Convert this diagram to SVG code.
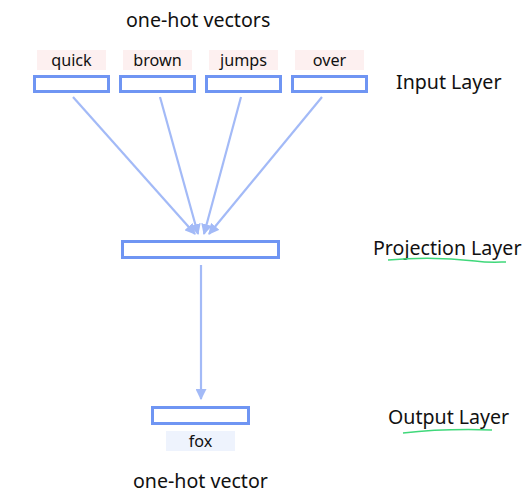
<svg xmlns="http://www.w3.org/2000/svg" width="526" height="499" viewBox="0 0 526 499">
<style>
text{font-family:"Noto Sans","Noto Sans CJK KR",sans-serif;fill:#111}
.t{font-size:19.6px}
.w{font-size:16.2px;text-anchor:middle}
.box{fill:#fff;stroke:#6f95f3;stroke-width:3}
.lbl{fill:#fdf0f0}
.c{stroke:#a3baf7;stroke-width:2.2;fill:none;marker-end:url(#ah)}
.u{stroke:#3fd87a;stroke-width:1.5;fill:none}
</style>
<defs>
<marker id="ah" viewBox="0 0 10 10" refX="9" refY="5" markerWidth="5" markerHeight="5" orient="auto" markerUnits="strokeWidth">
<path d="M0,0 L10,5 L0,10 z" fill="#a3baf7"/>
</marker>
</defs>
<rect width="526" height="499" fill="#fff"/>
<text class="t" x="126" y="27">one-hot vectors</text>
<g id="quick"><rect class="lbl" x="37" y="50" width="69" height="20"/><text class="w" x="71.5" y="66">quick</text><rect class="box" x="34.5" y="76.5" width="74" height="15"/></g>
<g id="brown"><rect class="lbl" x="123" y="50" width="69" height="20"/><text class="w" x="157.5" y="66">brown</text><rect class="box" x="120.5" y="76.5" width="74" height="15"/></g>
<g id="jumps"><rect class="lbl" x="209" y="50" width="69" height="20"/><text class="w" x="243.5" y="66">jumps</text><rect class="box" x="206.5" y="76.5" width="74" height="15"/></g>
<g id="over"><rect class="lbl" x="295" y="50" width="69" height="20"/><text class="w" x="329.5" y="66">over</text><rect class="box" x="292.5" y="76.5" width="74" height="15"/></g>
<g id="input-label"><text class="t" x="396" y="89">Input Layer</text></g>
<g id="projection"><rect class="box" x="122.5" y="241.5" width="156" height="16"/></g>
<g id="projection-label"><text class="t" x="373" y="255">Projection Layer</text><path class="u" d="M388,260 C420,257 450,258 475,261 C490,263 500,262 506,262"/></g>
<g id="output"><rect class="box" x="152.5" y="407.5" width="96" height="16"/><rect x="166" y="431" width="69" height="20" fill="#eef3fd"/><text class="w" x="200.5" y="447">fox</text></g>
<g id="output-label"><text class="t" x="388" y="424">Output Layer</text><path class="u" d="M403,433 C430,430 460,429 492,430"/></g>
<text class="t" x="133" y="488">one-hot vector</text>
<g id="connectors">
<line class="c" x1="73" y1="97" x2="195" y2="234"/>
<line class="c" x1="160" y1="97" x2="198" y2="234"/>
<line class="c" x1="241" y1="97" x2="204" y2="234"/>
<line class="c" x1="322" y1="97" x2="209" y2="234"/>
<line class="c" x1="201" y1="265" x2="201" y2="399"/>
</g>
</svg>
